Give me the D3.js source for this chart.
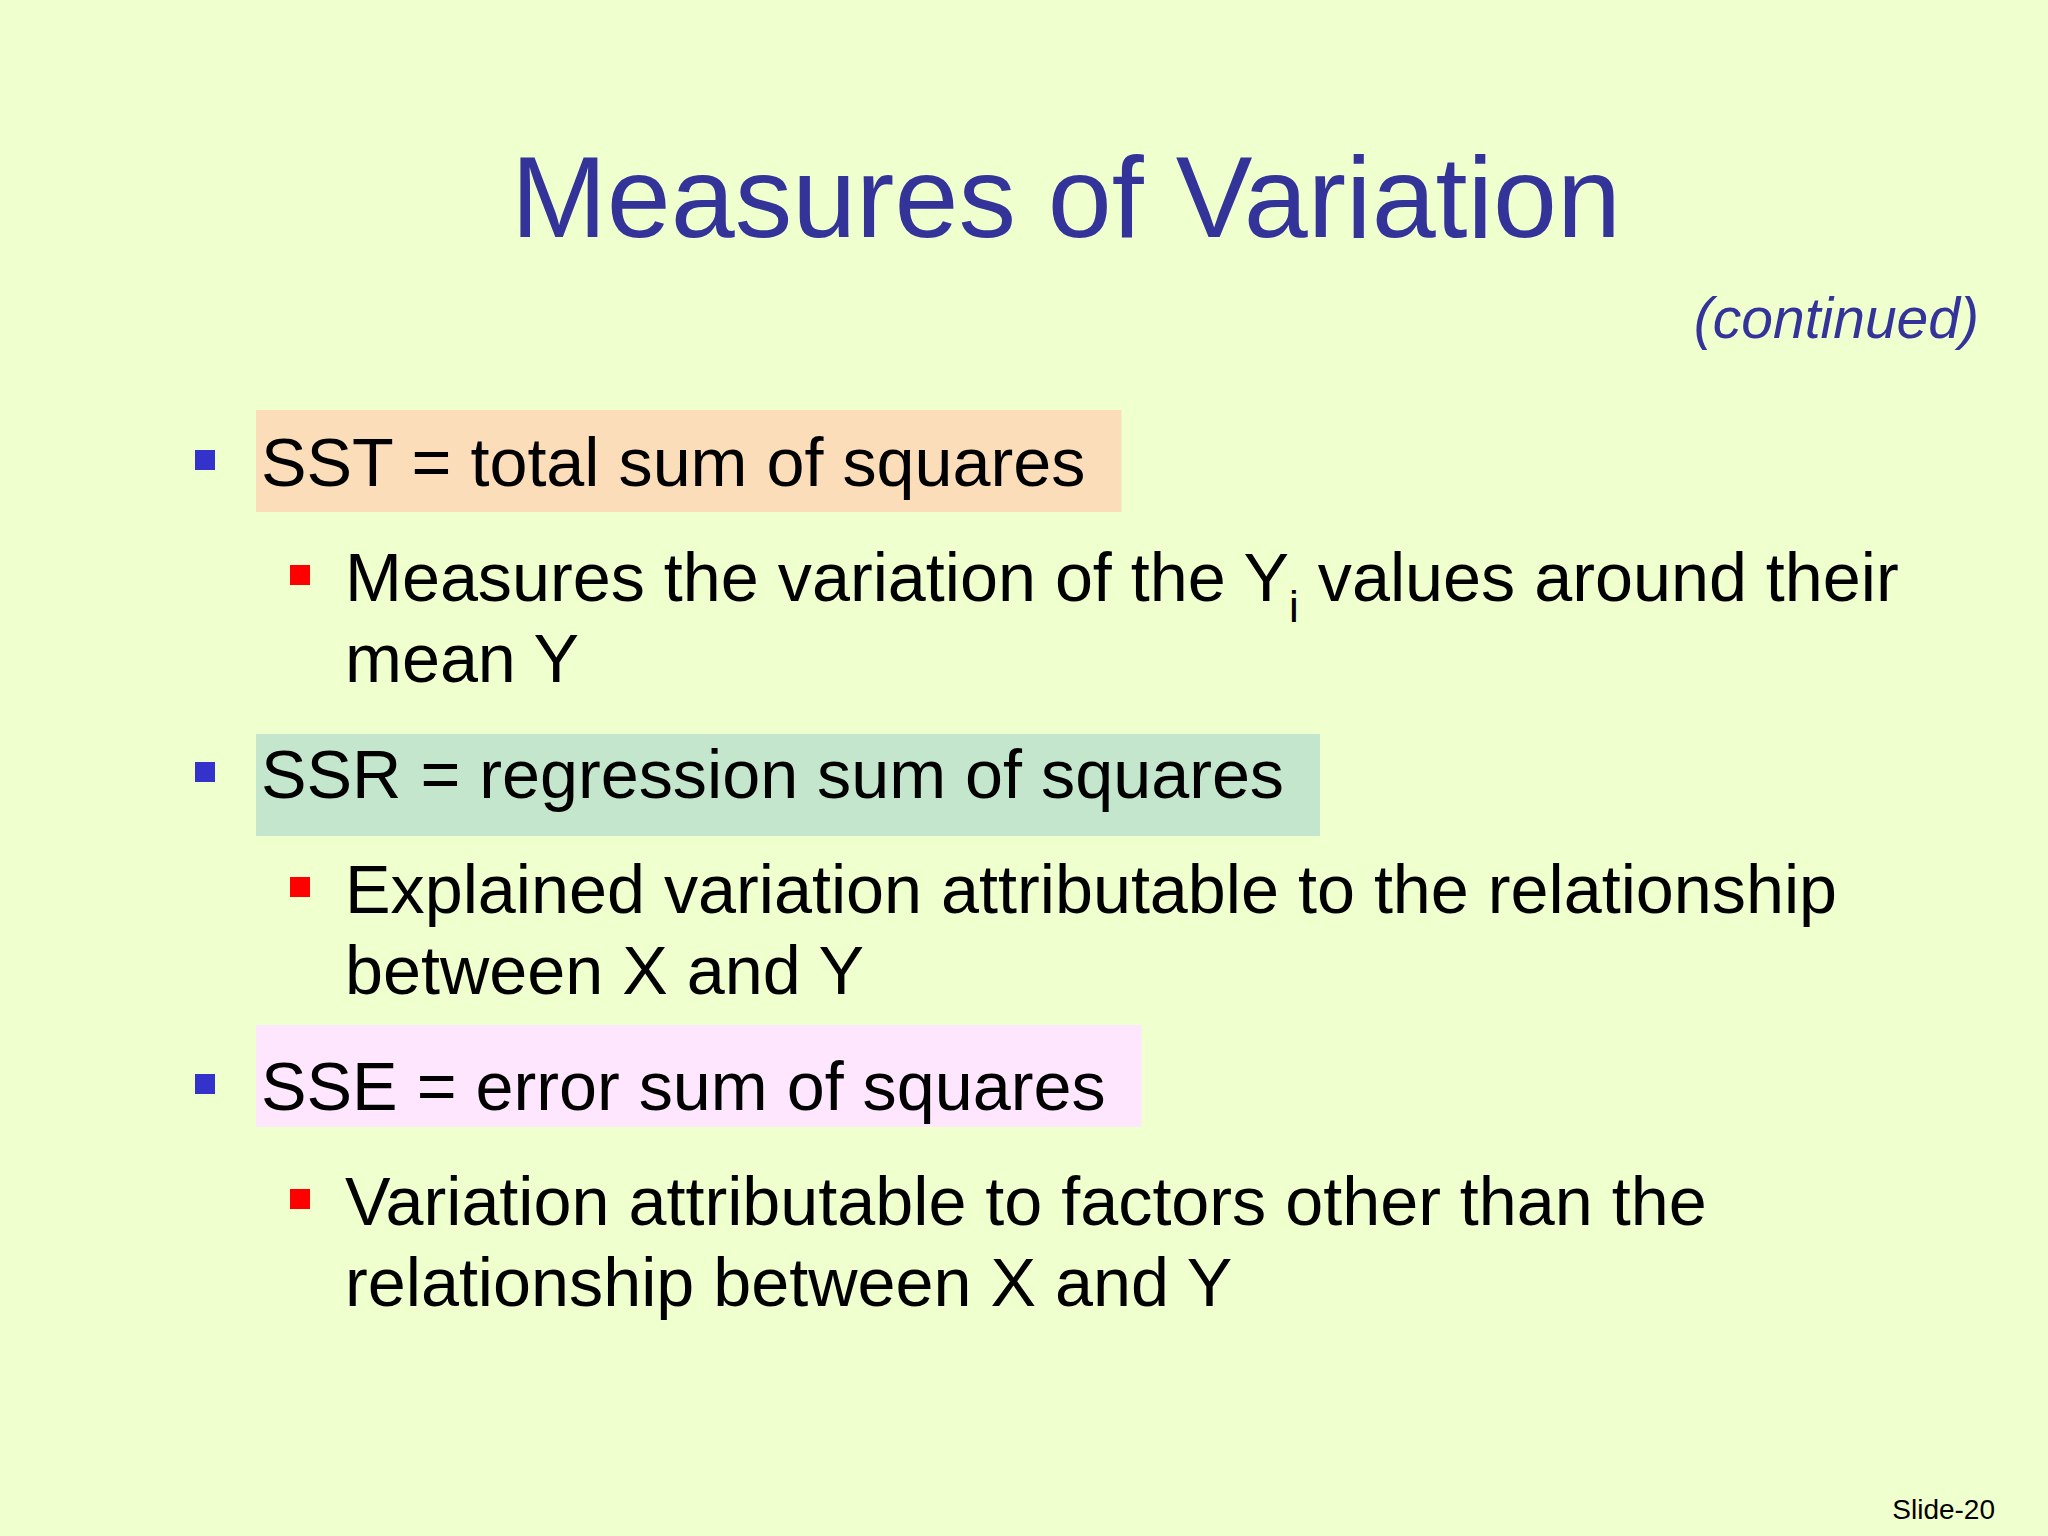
<!DOCTYPE html>
<head>
  <title>Measures of Variation</title>
  <meta charset="utf-8">
  <style>
    body { margin: 0; background: #efffce; }
    svg { display: block; font-family: "Liberation Sans", Arial, sans-serif; }
  </style>
</head>

<body>
  <svg width="2048" height="1536"></svg>

  <script src="https://d3js.org/d3.v7.min.js"></script>
  <script>

    // slide content
    var titleText = "Measures of Variation";
    var noteText = "(continued)";
    var footerText = "Slide-20";
    var termKeys = ["SST", "SSR", "SSE"];
    var terms = [
      "SST = total sum of squares",
      "SSR = regression sum of squares",
      "SSE = error sum of squares"
    ];
    // "_i" marks a subscript
    var details = [
      ["Measures the variation of the Y_i values around their", "mean Y"],
      ["Explained variation attributable to the relationship", "between X and Y"],
      ["Variation attributable to factors other than the", "relationship between X and Y"]
    ];

    var svg = d3.select("svg"),
        width = +svg.attr("width"),
        height = +svg.attr("height");

    var highlight = d3.scaleOrdinal()
        .domain(termKeys)
        .range(["#fcddba", "#c3e6cc", "#ffe6ff"]);

    var layout = {
      firstBaseline: 486,
      paraGap: 115,
      lineGap: 81,
      termX: 261,
      detailX: 345,
      termBullet: 195,
      detailBullet: 290,
      bulletSize: 20,
      fontSize: 68.3,
      boxLeft: 256,
      boxTop: 76,
      boxHeight: 102,
      boxPad: 36,
      boxShift: [0, 12, -9]   // the highlight shapes sit a little unevenly on the slide
    };

    svg.append("rect")
        .attr("width", width)
        .attr("height", height)
        .attr("fill", "#efffce");

    // title
    svg.append("text")
        .attr("x", 1066)
        .attr("y", 237)
        .attr("text-anchor", "middle")
        .attr("font-size", 115)
        .attr("fill", "#333399")
        .text(titleText);

    svg.append("text")
        .attr("x", 1979)
        .attr("y", 338)
        .attr("text-anchor", "end")
        .attr("font-size", 57)
        .attr("font-style", "italic")
        .attr("fill", "#333399")
        .text(noteText);

    //Work out the baseline of every row
    var rows = [];
    var y = layout.firstBaseline;
    terms.forEach(function(t, i) {
      if (i > 0) y += layout.paraGap + 1;
      rows.push({key: termKeys[i], idx: i, text: t, level: 1, y: y, bullet: true});
      details[i].forEach(function(line, j) {
        y += (j == 0) ? layout.paraGap : layout.lineGap;
        rows.push({key: termKeys[i], idx: i, text: line, level: 2, y: y, bullet: j == 0});
      });
    });

    var boxes = svg.append("g");
    var body = svg.append("g").attr("font-size", layout.fontSize).attr("fill", "#000");

    var lines = body.selectAll("text")
      .data(rows)
      .enter().append("text")
        .attr("x", function(d) { return d.level == 1 ? layout.termX : layout.detailX; })
        .attr("y", function(d) { return d.y; });

    lines.each(function(d) {
      var el = d3.select(this);
      var parts = d.text.split(/_(\w)/);
      parts.forEach(function(p, k) {
        if (!p) return;
        var sub = k % 2 == 1;
        var ts = el.append("tspan").text(p);
        if (sub) ts.attr("font-size", 44).attr("dy", 21);
        else if (k > 0) ts.attr("dy", -21);
      });
    });

    //Highlight boxes behind the term lines
    lines.filter(function(d) { return d.level == 1; }).each(function(d) {
      var w = this.getComputedTextLength();
      boxes.append("rect")
          .attr("x", layout.boxLeft)
          .attr("y", d.y - layout.boxTop + layout.boxShift[d.idx])
          .attr("width", layout.termX + w + layout.boxPad - layout.boxLeft)
          .attr("height", layout.boxHeight)
          .attr("fill", highlight(d.key));
    });

    //Square bullets
    svg.append("g")
      .selectAll("rect")
      .data(rows.filter(function(d) { return d.bullet; }))
      .enter().append("rect")
        .attr("x", function(d) { return d.level == 1 ? layout.termBullet : layout.detailBullet; })
        .attr("y", function(d) { return d.y - 36; })
        .attr("width", layout.bulletSize)
        .attr("height", layout.bulletSize)
        .attr("fill", function(d) { return d.level == 1 ? "#3333cc" : "#ff0000"; });

    svg.append("text")
        .attr("x", 1995)
        .attr("y", 1519)
        .attr("text-anchor", "end")
        .attr("font-size", 28)
        .attr("fill", "#000")
        .text(footerText);
  </script>
</body>
